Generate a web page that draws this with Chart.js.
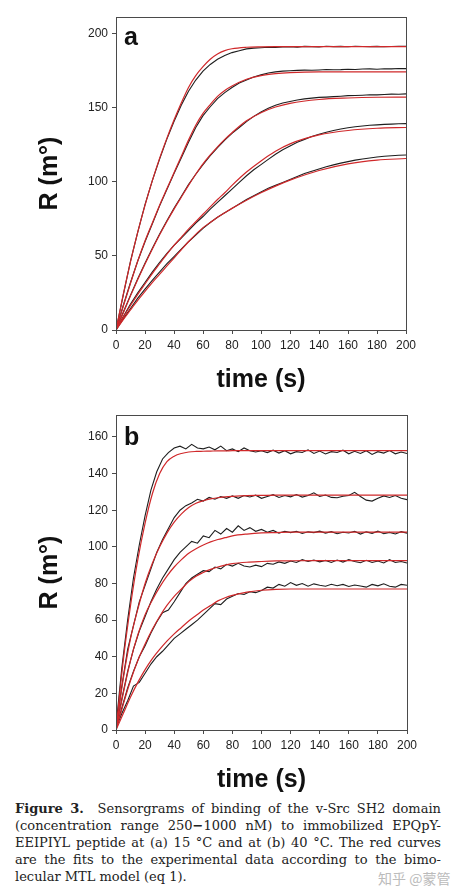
<!DOCTYPE html>
<html>
<head>
<meta charset="utf-8">
<script src="https://cdn.jsdelivr.net/npm/chart.js@4.4.1/dist/chart.umd.min.js"></script>
<style>
  body { margin: 0; background: #fff; width: 462px; height: 896px; position: relative; overflow: hidden; }
  .panel { position: absolute; left: 0; width: 462px; height: 400px; }
  #caption { position: absolute; left: 15px; top: 800px; width: 426px; font-family: "DejaVu Serif", serif; font-size: 13px; line-height: 17px; color: #222; }
  #caption div { white-space: nowrap; text-align: justify; text-align-last: justify; }
  #caption div.last { text-align-last: left; }
  #wm { position: absolute; left: 378px; top: 868px; font-family: "Noto Sans CJK SC", sans-serif; font-size: 14px; color: #bbb; }
</style>
</head>
<body>
<div class="panel" style="top:0"><canvas id="chartA"></canvas></div>
<div class="panel" style="top:400px"><canvas id="chartB"></canvas></div>
<div id="caption">
  <div><b>Figure 3.</b>&nbsp; Sensorgrams of binding of the v-Src SH2 domain</div>
  <div>(concentration range 250<b>−</b>1000 nM) to immobilized EPQpY-</div>
  <div>EEIPIYL peptide at (a) 15 °C and at (b) 40 °C. The red curves</div>
  <div>are the fits to the experimental data according to the bimo-</div>
  <div class="last">lecular MTL model (eq 1).</div>
</div>
<div id="wm">知乎 @蒙管</div>
<script>
// zaman noktaları (s)
const fitTimes = [0, 5, 10, 15, 20, 25, 30, 35, 40, 45, 50, 55, 60, 65, 70, 75, 80, 90, 100, 110, 120, 140, 160, 180, 200];
const rawTimesA = [0, 5, 10, 15, 20, 25, 30, 35, 40, 45, 50, 55, 60, 65, 70, 75, 80, 85, 90, 95, 100,
    105, 110, 115, 120, 125, 130, 135, 140, 145, 150, 155, 160, 165, 170, 175, 180, 185, 190, 195, 200];
const rawTimesB = [0, 4, 8, 12, 16, 20, 24, 28, 32, 36, 40, 44, 48, 52, 56, 60, 64, 68, 72, 76, 80,
    84, 88, 92, 96, 100, 104, 108, 112, 116, 120, 124, 128, 132, 136, 140, 144, 148, 152, 156, 160,
    164, 168, 172, 176, 180, 184, 188, 192, 196, 200];

// (a) 15 °C - fit eğrileri
const fitA1 = [0, 24, 46, 66, 84, 100.5, 115.5, 129, 141.5, 153, 163.5, 171.5, 177.5, 182.5, 186, 188.3, 189.6, 190.6, 190.9, 191, 191, 191, 191, 191, 191];
const fitA2 = [0, 16, 31.5, 46.5, 60, 72, 84, 95, 106, 117, 128, 138, 146, 152, 157.5, 161.5, 164.5, 169, 171.5, 172.8, 173.5, 174, 174, 174, 174];
const fitA3 = [0, 11.5, 23, 34, 44.5, 54.5, 64, 73, 81.5, 89.5, 97.5, 105, 112, 118, 123.5, 128.5, 133, 141, 146.5, 150.3, 152.8, 155.4, 156.4, 156.9, 157];
const fitA4 = [0, 8.5, 16.5, 24, 31, 38, 44.5, 51, 57, 62.5, 68, 73, 78, 83, 88, 92.5, 97.5, 106.5, 114, 120.5, 125.5, 131.5, 134.5, 136, 136.5];
const fitA5 = [0, 7, 13.5, 20, 26, 32, 37.5, 43, 48.5, 54, 59.5, 64.5, 69, 72.5, 76, 79, 82, 87.5, 92.5, 97, 101, 107.5, 112, 114.5, 115.6];

// (a) 15 °C - deneysel veriler
const rawA1 = [0, 23.5, 46.5, 66, 84.5, 100.5, 115, 128.5, 140.5, 151.5, 161, 168.5, 174.5, 179, 182.5, 185, 187, 188.3, 189.5, 190, 190.3,
    190.6, 190.4, 190.8, 191, 190.7, 191.2, 191, 190.8, 191.3, 191, 191.2, 190.9, 191.3, 191.1, 191, 191.2, 190.9, 191.1, 191.3, 191.2];
const rawA2 = [0, 16.5, 32, 46.5, 59.5, 71.5, 83.5, 94.5, 105.5, 116, 126.5, 136.5, 144.5, 150.5, 156, 160, 163.5, 166.5, 168.5, 170.5, 172,
    173.2, 174, 174.5, 174.8, 175, 175.2, 175.1, 175.3, 175.6, 175.4, 175.5, 175.8, 175.6, 175.9, 176, 175.8, 176.1, 176, 176.3, 176.2];
const rawA3 = [0, 12, 23.5, 34.5, 45, 55, 64.5, 73.5, 82, 90, 98, 105, 111.5, 117.5, 123, 128, 132.5, 136.5, 140.5, 144, 147,
    149.5, 151.5, 153, 154, 155, 155.8, 156.3, 156.8, 157, 157.3, 157.6, 158, 158.1, 158.3, 158.6, 158.5, 158.8, 159, 158.9, 159.2];
const rawA4 = [0, 9, 17.5, 25, 32, 39, 45.5, 51.5, 57, 62, 67, 72, 76.5, 81.5, 86, 90.5, 95, 99.5, 104, 108, 111.5,
    115, 118.5, 121.5, 124, 126.5, 128.5, 130.5, 132, 133.3, 134.5, 135.5, 136.3, 137, 137.5, 138, 138.3, 138.6, 138.8, 139, 139.1];
const rawA5 = [0, 7.5, 14.5, 21.5, 27.5, 33.5, 39, 44.5, 49.5, 54.5, 59.5, 64, 68.5, 72.5, 76, 79, 82, 85, 88, 90.5, 93,
    95.5, 97.5, 99.5, 101.5, 103.5, 105.5, 107, 108.5, 110, 111.3, 112.5, 113.5, 114.5, 115.3, 116, 116.6, 117.1, 117.5, 117.8, 118];

// (b) 40 °C - fit eğrileri
const fitB1 = [0, 38, 68, 93, 113, 129, 140, 146.5, 149.5, 151, 151.8, 152.1, 152.2, 152.3, 152.4, 152.4, 152.5, 152.5, 152.5, 152.5, 152.5, 152.5, 152.5, 152.5, 152.5];
const fitB2 = [0, 28, 50, 66, 80, 91, 100, 107.5, 113.5, 118, 121.5, 123.8, 125.2, 126.2, 126.8, 127.3, 127.6, 128, 128.1, 128.2, 128.2, 128.2, 128.2, 128.2, 128.2];
const fitB3 = [0, 20, 38, 52, 63, 71, 78, 84, 89, 93, 96.5, 99, 101, 102.7, 104, 105, 106, 107, 107.6, 107.8, 108, 108, 108, 108, 108];
const fitB4 = [0, 14, 27, 38, 47, 55, 62, 68, 73, 77, 81, 84, 86, 87.7, 89, 90, 90.8, 91.6, 92, 92.3, 92.4, 92.5, 92.5, 92.5, 92.5];
const fitB5 = [0, 9, 18, 26, 33, 39, 44, 48.5, 52.5, 56, 59.5, 62.5, 65.5, 68, 70.5, 72.2, 73.5, 75.3, 76.3, 76.8, 77, 77, 77, 77, 77];

// (b) 40 °C - deneysel veriler
const rawB1 = [2, 34, 60, 83, 101, 117, 131, 141, 148, 151.5, 154, 155, 153.5, 156, 154, 153.5, 154.5, 153, 155, 152.5, 153.5,
    152, 154, 152.5, 151.8, 152.5, 151.5, 152.8, 151.2, 152.5, 150.8, 152, 151.5, 153, 151, 152.3, 150.7, 152, 151.5, 152.8, 150.8,
    152.2, 151, 152.5, 150.5, 152, 151.2, 152.6, 150.8, 151.8, 151];
const rawB2 = [1, 24, 44, 57, 70, 79, 88, 97, 104, 110, 116, 120, 122.5, 124, 126, 125, 127, 126, 127.5, 126.5, 127.8,
    126.5, 128, 127.2, 128.2, 126.5, 127.5, 128.5, 127, 128, 127.3, 128.6, 127.2, 128, 129.5, 127.5, 128.3, 127, 126.8, 127.6, 128,
    129.8, 127.5, 125.5, 125, 126.5, 127.8, 127, 128, 126.5, 125.8];
const rawB3 = [1, 17, 32, 44, 54, 62, 70, 77, 83, 88, 93, 97, 100, 103, 102, 106, 105, 109, 107, 110, 108,
    111.5, 109, 110.5, 108.5, 109.5, 108, 109, 107.5, 108.5, 107.8, 108.5, 107.3, 108.2, 107.8, 108.6, 107.5, 108.3, 107.2, 108, 107.6,
    108.5, 107, 108.2, 107.4, 108.6, 107.2, 107.9, 107, 108.3, 107.5];
const rawB4 = [1, 12, 23, 32, 40, 46, 53, 59, 64, 65.5, 70, 75, 80, 83, 85, 87, 86.5, 89, 88, 90.5, 89.5,
    91, 89.5, 89, 90, 89.2, 91, 90.5, 91.8, 91, 92.3, 91.5, 93, 92, 92.8, 91.8, 92.6, 91.5, 92.8, 91.7, 93,
    92, 91.3, 92.7, 91.5, 92.3, 91.2, 93, 91.5, 92, 91.2];
const rawB5 = [1, 9, 16, 24, 26, 31, 36, 40, 43, 46.5, 50, 52.5, 55, 57.5, 60, 63, 66, 69, 68.5, 71.5, 73,
    74.5, 74, 75.5, 75, 76.2, 78, 77.5, 79.5, 78.5, 80.5, 79, 80, 78.5, 79.8, 79, 78.5, 79.6, 78.8, 79.5, 78.4,
    79.2, 78.6, 78, 79.5, 78.7, 79.8, 78.5, 78, 79.5, 79];

const RED = '#d0282a';
const BLACK = '#1e1e1e';

function noktalar(times, values) {
    return times.map((t, i) => ({ x: t, y: values[i] }));
}

function fitSet(values) {
    return {
        data: noktalar(fitTimes, values),
        borderColor: RED,
        borderWidth: 1.2,
        pointRadius: 0,
        cubicInterpolationMode: 'monotone'
    };
}

function rawSet(times, values) {
    return {
        data: noktalar(times, values),
        borderColor: BLACK,
        borderWidth: 1.1,
        pointRadius: 0,
        tension: 0
    };
}

// çerçeve ve panel harfi
const panelFrame = {
    id: 'panelFrame',
    afterDraw(chart, args, opts) {
        const { ctx, chartArea: a } = chart;
        ctx.save();
        ctx.strokeStyle = '#4a4a4a';
        ctx.lineWidth = 1;
        ctx.strokeRect(a.left + 0.5, a.top + 0.5, a.right - a.left, a.bottom - a.top);
        ctx.fillStyle = '#111';
        ctx.font = 'bold 25px "Liberation Sans", Arial, sans-serif';
        ctx.textBaseline = 'alphabetic';
        ctx.fillText(opts.letter, a.left + 8, a.top + opts.letterY);
        ctx.restore();
    }
};

const tickFont = { family: '"Liberation Sans", Arial, sans-serif', size: 12 };
const titleFont = { family: '"Liberation Sans", Arial, sans-serif', size: 25, weight: 'bold' };

function ciz(canvasId, datasets, yMax, yStep, letter, letterY, padTop, padRight) {
    const ctx = document.getElementById(canvasId).getContext('2d');
    return new Chart(ctx, {
        type: 'line',
        data: { datasets: datasets },
        options: {
            responsive: true,
            maintainAspectRatio: false,
            animation: false,
            layout: { padding: { top: padTop, right: padRight, left: 0, bottom: 0 } },
            plugins: {
                legend: { display: false },
                tooltip: { enabled: false },
                panelFrame: { letter: letter, letterY: letterY }
            },
            scales: {
                x: {
                    type: 'linear',
                    min: 0,
                    max: 200,
                    afterFit: s => { s.height = 70; },
                    ticks: { stepSize: 20, color: '#222', font: tickFont, padding: 4, maxRotation: 0 },
                    grid: { drawOnChartArea: false, tickLength: 4, color: '#4a4a4a' },
                    border: { color: '#4a4a4a' },
                    title: { display: true, text: 'time (s)', color: '#111', font: titleFont, padding: { bottom: 5 } }
                },
                y: {
                    min: 0,
                    max: yMax,
                    afterFit: s => { s.width = 116; },
                    ticks: { stepSize: yStep, includeBounds: false, color: '#222', font: tickFont, padding: 4 },
                    grid: { drawOnChartArea: false, tickLength: 4, color: '#4a4a4a' },
                    border: { color: '#4a4a4a' },
                    title: { display: true, text: 'R (m°)', color: '#111', font: titleFont, padding: { top: 35 } }
                }
            }
        },
        plugins: [panelFrame]
    });
}

ciz('chartA', [
    fitSet(fitA1), fitSet(fitA2), fitSet(fitA3), fitSet(fitA4), fitSet(fitA5),
    rawSet(rawTimesA, rawA1), rawSet(rawTimesA, rawA2), rawSet(rawTimesA, rawA3), rawSet(rawTimesA, rawA4), rawSet(rawTimesA, rawA5)
], 211, 50, 'a', 28, 17, 56);

ciz('chartB', [
    fitSet(fitB1), fitSet(fitB2), fitSet(fitB3), fitSet(fitB4), fitSet(fitB5),
    rawSet(rawTimesB, rawB1), rawSet(rawTimesB, rawB2), rawSet(rawTimesB, rawB3), rawSet(rawTimesB, rawB4), rawSet(rawTimesB, rawB5)
], 172, 20, 'b', 30, 15, 55);
</script>
</body>
</html>
